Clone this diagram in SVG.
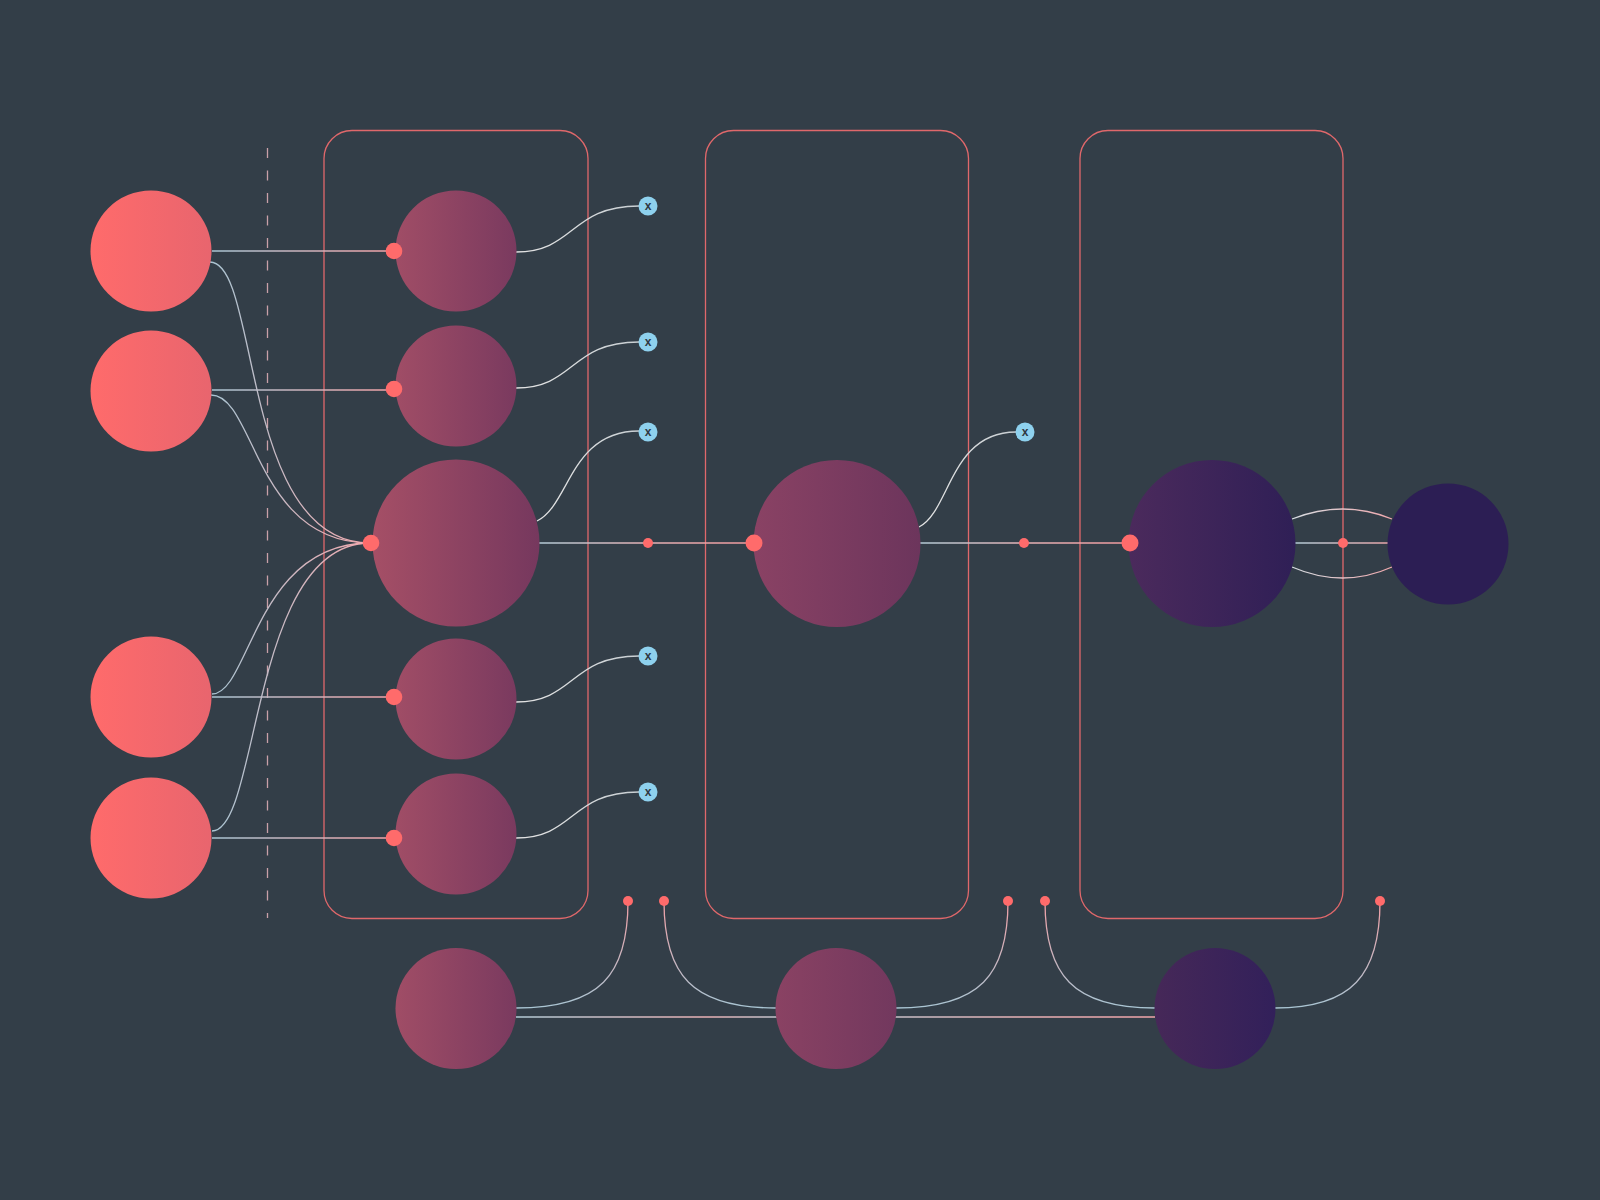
<svg xmlns="http://www.w3.org/2000/svg" width="1600" height="1200" viewBox="0 0 1600 1200">
<defs>
<linearGradient id="gIn" x1="0" y1="0" x2="1" y2="0"><stop offset="0" stop-color="#ff6b6b"/><stop offset="1" stop-color="#e8656e"/></linearGradient>
<linearGradient id="gL1" x1="0" y1="0" x2="1" y2="0"><stop offset="0" stop-color="#a04d66"/><stop offset="1" stop-color="#7a3a5f"/></linearGradient>
<linearGradient id="gBig" x1="0" y1="0" x2="1" y2="0"><stop offset="0" stop-color="#a54f66"/><stop offset="1" stop-color="#76385e"/></linearGradient>
<linearGradient id="gMid" x1="0" y1="0" x2="1" y2="0"><stop offset="0" stop-color="#8a4264"/><stop offset="1" stop-color="#6c355c"/></linearGradient>
<linearGradient id="gPur" x1="0" y1="0" x2="1" y2="0"><stop offset="0" stop-color="#4b2a5c"/><stop offset="1" stop-color="#2f1f56"/></linearGradient>
<linearGradient id="gBot2" x1="0" y1="0" x2="1" y2="0"><stop offset="0" stop-color="#8a4263"/><stop offset="1" stop-color="#72385e"/></linearGradient>
<linearGradient id="gBot3" x1="0" y1="0" x2="1" y2="0"><stop offset="0" stop-color="#462858"/><stop offset="1" stop-color="#32205a"/></linearGradient>
<linearGradient id="sBP" x1="0" y1="0" x2="1" y2="0"><stop offset="0" stop-color="#a9c5d3"/><stop offset="1" stop-color="#f2a9ae"/></linearGradient>
<linearGradient id="sW" x1="0" y1="0" x2="1" y2="0"><stop offset="0" stop-color="#e4e4e4"/><stop offset="1" stop-color="#c9cfd3"/></linearGradient>
<linearGradient id="sV" x1="0" y1="0" x2="0" y2="1"><stop offset="0" stop-color="#f2a0a6"/><stop offset="1" stop-color="#a9c5d3"/></linearGradient>
<linearGradient id="hIn" gradientUnits="userSpaceOnUse" x1="212" y1="0" x2="386" y2="0"><stop offset="0" stop-color="#a9c5d3"/><stop offset="1" stop-color="#f0a4a9"/></linearGradient>
<linearGradient id="hM1" gradientUnits="userSpaceOnUse" x1="539" y1="0" x2="754" y2="0"><stop offset="0" stop-color="#b3cbd6"/><stop offset="0.5" stop-color="#e6b2b6"/><stop offset="1" stop-color="#f29a9e"/></linearGradient>
<linearGradient id="hM2" gradientUnits="userSpaceOnUse" x1="920" y1="0" x2="1130" y2="0"><stop offset="0" stop-color="#b3cbd6"/><stop offset="0.5" stop-color="#e6b2b6"/><stop offset="1" stop-color="#f29a9e"/></linearGradient>
<linearGradient id="hM3" gradientUnits="userSpaceOnUse" x1="1295" y1="0" x2="1388" y2="0"><stop offset="0" stop-color="#b3cbd6"/><stop offset="1" stop-color="#e8a6aa"/></linearGradient>
<linearGradient id="hBot" gradientUnits="userSpaceOnUse" x1="516" y1="0" x2="1155" y2="0"><stop offset="0" stop-color="#b3cbd6"/><stop offset="0.3" stop-color="#e9b0b4"/><stop offset="0.45" stop-color="#b3cbd6"/><stop offset="0.8" stop-color="#e9b0b4"/><stop offset="1" stop-color="#f0a4a9"/></linearGradient>
<linearGradient id="sArc" x1="0" y1="0" x2="1" y2="0"><stop offset="0" stop-color="#d6dde2"/><stop offset="1" stop-color="#f0a8ad"/></linearGradient>
</defs>
<style>
.box{fill:none;stroke:#e0686b;stroke-width:1.3}
.ln{fill:none;stroke-width:1.3}
.dot{fill:#ff6b6b}
.xn{fill:#8ed1ee}
.xt{font-family:"Liberation Sans",Arial,sans-serif;font-size:12px;font-weight:bold;fill:#2e3943;text-anchor:middle;dominant-baseline:central}
</style>
<rect width="1600" height="1200" fill="#333e48"/>
<g id="boxes">
<rect class="box" x="324" y="130.5" width="264" height="788" rx="28"/>
<rect class="box" x="705.5" y="130.5" width="263" height="788" rx="28"/>
<rect class="box" x="1080" y="130.5" width="263" height="788" rx="28"/>
<line x1="267.5" y1="148" x2="267.5" y2="918" stroke="#c9a0a8" stroke-width="1.3" stroke-dasharray="10 12.5"/>
</g>
<g id="connectors">
<path class="ln" stroke="url(#hIn)" d="M212 251 H386"/>
<path class="ln" stroke="url(#hIn)" d="M212 390 H386"/>
<path class="ln" stroke="url(#hIn)" d="M212 697 H386"/>
<path class="ln" stroke="url(#hIn)" d="M212 838 H386"/>
<path class="ln" stroke="url(#sBP)" d="M210 262 C260 262 240 543 370 543"/>
<path class="ln" stroke="url(#sBP)" d="M211 395 C255 395 255 543 370 543"/>
<path class="ln" stroke="url(#sBP)" d="M212 694 C250 694 255 543 370 543"/>
<path class="ln" stroke="url(#sBP)" d="M212 831 C260 831 250 543 370 543"/>
<path class="ln" stroke="url(#sW)" d="M516 252 C575 252 570 206 639 206"/>
<path class="ln" stroke="url(#sW)" d="M516 388 C575 388 570 342 639 342"/>
<path class="ln" stroke="url(#sW)" d="M537 521 C570 505 570 431 639 431"/>
<path class="ln" stroke="url(#sW)" d="M516 702 C575 702 570 656 639 656"/>
<path class="ln" stroke="url(#sW)" d="M516 838 C575 838 570 792 639 792"/>
<path class="ln" stroke="url(#sW)" d="M919 527 C950 512 950 432 1016 432"/>
<path class="ln" stroke="url(#hM1)" d="M539 543 H754"/>
<path class="ln" stroke="url(#hM2)" d="M920 543 H1130"/>
<path class="ln" stroke="url(#hM3)" d="M1295 543 H1388"/>
<path class="ln" stroke="url(#sArc)" d="M1292 519 Q1343 499 1392 519"/>
<path class="ln" stroke="url(#sArc)" d="M1292 567 Q1343 589 1392 567"/>
<path class="ln" stroke="url(#hBot)" d="M516 1017 H1155"/>
<path class="ln" stroke="url(#sV)" d="M628 901 C628 975 600 1008 516 1008"/>
<path class="ln" stroke="url(#sV)" d="M664 901 C664 975 692 1008 776 1008"/>
<path class="ln" stroke="url(#sV)" d="M1008 901 C1008 975 980 1008 896 1008"/>
<path class="ln" stroke="url(#sV)" d="M1045 901 C1045 975 1073 1008 1155 1008"/>
<path class="ln" stroke="url(#sV)" d="M1380 901 C1380 975 1352 1008 1275 1008"/>
</g>
<g id="in1"><circle cx="151" cy="251" r="60.5" fill="url(#gIn)"/></g>
<g id="in2"><circle cx="151" cy="391" r="60.5" fill="url(#gIn)"/></g>
<g id="in3"><circle cx="151" cy="697" r="60.5" fill="url(#gIn)"/></g>
<g id="in4"><circle cx="151" cy="838" r="60.5" fill="url(#gIn)"/></g>
<g id="l1a"><circle cx="456" cy="251" r="60.5" fill="url(#gL1)"/><circle class="dot" cx="394" cy="251" r="8.3"/></g>
<g id="l1b"><circle cx="456" cy="386" r="60.5" fill="url(#gL1)"/><circle class="dot" cx="394" cy="389" r="8.3"/></g>
<g id="l1big"><circle cx="456" cy="543" r="83.5" fill="url(#gBig)"/><circle class="dot" cx="371" cy="543" r="8.3"/></g>
<g id="l1c"><circle cx="456" cy="699" r="60.5" fill="url(#gL1)"/><circle class="dot" cx="394" cy="697" r="8.3"/></g>
<g id="l1d"><circle cx="456" cy="834" r="60.5" fill="url(#gL1)"/><circle class="dot" cx="394" cy="838" r="8.3"/></g>
<g id="mid"><circle cx="837" cy="543.5" r="83.5" fill="url(#gMid)"/><circle class="dot" cx="754" cy="543" r="8.5"/></g>
<g id="right"><circle cx="1212" cy="543.5" r="83.5" fill="url(#gPur)"/><circle class="dot" cx="1130" cy="543" r="8.5"/></g>
<g id="final"><circle cx="1448" cy="544" r="60.5" fill="#2c1e54"/></g>
<g id="smalldots">
<circle class="dot" cx="648" cy="543" r="5"/>
<circle class="dot" cx="1024" cy="543" r="5"/>
<circle class="dot" cx="1343" cy="543" r="5"/>
<circle class="dot" cx="628" cy="901" r="5"/>
<circle class="dot" cx="664" cy="901" r="5"/>
<circle class="dot" cx="1008" cy="901" r="5"/>
<circle class="dot" cx="1045" cy="901" r="5"/>
<circle class="dot" cx="1380" cy="901" r="5"/>
</g>
<g id="x1"><circle class="xn" cx="648" cy="206" r="9.5"/><text class="xt" x="648" y="206">x</text></g>
<g id="x2"><circle class="xn" cx="648" cy="342" r="9.5"/><text class="xt" x="648" y="342">x</text></g>
<g id="x3"><circle class="xn" cx="648" cy="432" r="9.5"/><text class="xt" x="648" y="432">x</text></g>
<g id="x4"><circle class="xn" cx="648" cy="656" r="9.5"/><text class="xt" x="648" y="656">x</text></g>
<g id="x5"><circle class="xn" cx="648" cy="792" r="9.5"/><text class="xt" x="648" y="792">x</text></g>
<g id="x6"><circle class="xn" cx="1025" cy="432" r="9.5"/><text class="xt" x="1025" y="432">x</text></g>
<g id="b1"><circle cx="456" cy="1008.5" r="60.5" fill="url(#gL1)"/></g>
<g id="b2"><circle cx="836" cy="1008.5" r="60.5" fill="url(#gBot2)"/></g>
<g id="b3"><circle cx="1215" cy="1008.5" r="60.5" fill="url(#gBot3)"/></g>
</svg>
